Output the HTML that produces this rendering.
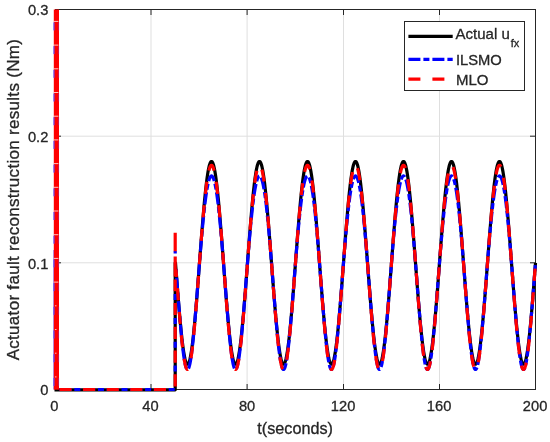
<!DOCTYPE html><html><head><meta charset="utf-8"><title>plot</title><style>html,body{margin:0;padding:0;background:#fff}svg{display:block}text{font-family:"Liberation Sans", sans-serif;fill:#262626;stroke:#262626;stroke-width:0.3px}</style></head><body>
<svg width="550" height="442" viewBox="0 0 550 442">
<rect width="550" height="442" fill="#fff"/>
<g stroke="#dfdfdf" stroke-width="1"><line x1="151.0" y1="9.5" x2="151.0" y2="389.5"/><line x1="247.1" y1="9.5" x2="247.1" y2="389.5"/><line x1="343.5" y1="9.5" x2="343.5" y2="389.5"/><line x1="439.5" y1="9.5" x2="439.5" y2="389.5"/><line x1="55.5" y1="262.8" x2="535.5" y2="262.8"/><line x1="55.5" y1="136.2" x2="535.5" y2="136.2"/></g>
<g stroke="#262626" stroke-width="1"><line x1="151.0" y1="389.5" x2="151.0" y2="384.0"/><line x1="151.0" y1="9.5" x2="151.0" y2="15.0"/><line x1="247.1" y1="389.5" x2="247.1" y2="384.0"/><line x1="247.1" y1="9.5" x2="247.1" y2="15.0"/><line x1="343.5" y1="389.5" x2="343.5" y2="384.0"/><line x1="343.5" y1="9.5" x2="343.5" y2="15.0"/><line x1="439.5" y1="389.5" x2="439.5" y2="384.0"/><line x1="439.5" y1="9.5" x2="439.5" y2="15.0"/><line x1="55.5" y1="262.8" x2="61.0" y2="262.8"/><line x1="535.5" y1="262.8" x2="530.0" y2="262.8"/><line x1="55.5" y1="136.2" x2="61.0" y2="136.2"/><line x1="535.5" y1="136.2" x2="530.0" y2="136.2"/></g>
<rect x="55.5" y="9.5" width="480.0" height="380.0" fill="none" stroke="#262626" stroke-width="1" shape-rendering="crispEdges"/>
<polyline fill="none" stroke="#000" stroke-width="3.2" stroke-linejoin="round" points="54.5,389.8 175.2,389.8 175.2,262.8 175.50,262.83 175.74,266.02 175.98,269.20 176.22,272.37 176.46,275.53 176.70,278.69 176.94,281.82 177.18,284.94 177.42,288.03 177.66,291.10 177.90,294.15 178.14,297.16 178.38,300.14 178.62,303.08 178.86,305.98 179.10,308.84 179.34,311.65 179.58,314.42 179.82,317.13 180.06,319.79 180.30,322.40 180.54,324.94 180.78,327.43 181.02,329.85 181.26,332.20 181.50,334.49 181.74,336.70 181.98,338.84 182.22,340.91 182.46,342.90 182.70,344.81 182.94,346.64 183.18,348.39 183.42,350.06 183.66,351.63 183.90,353.12 184.14,354.52 184.38,355.83 184.62,357.05 184.86,358.18 185.10,359.21 185.34,360.14 185.58,360.98 185.82,361.73 186.06,362.37 186.30,362.92 186.54,363.37 186.78,363.72 187.02,363.97 187.26,364.12 187.50,364.17 187.74,364.12 187.98,363.97 188.22,363.72 188.46,363.37 188.70,362.92 188.94,362.37 189.18,361.73 189.42,360.98 189.66,360.14 189.90,359.21 190.14,358.18 190.38,357.05 190.62,355.83 190.86,354.52 191.10,353.12 191.34,351.63 191.58,350.06 191.82,348.39 192.06,346.64 192.30,344.81 192.54,342.90 192.78,340.91 193.02,338.84 193.26,336.70 193.50,334.49 193.74,332.20 193.98,329.85 194.22,327.43 194.46,324.94 194.70,322.40 194.94,319.79 195.18,317.13 195.42,314.42 195.66,311.65 195.90,308.84 196.14,305.98 196.38,303.08 196.62,300.14 196.86,297.16 197.10,294.15 197.34,291.10 197.58,288.03 197.82,284.94 198.06,281.82 198.30,278.69 198.54,275.53 198.78,272.37 199.02,269.20 199.26,266.02 199.50,262.83 199.74,259.65 199.98,256.47 200.22,253.30 200.46,250.13 200.70,246.98 200.94,243.85 201.18,240.73 201.42,237.63 201.66,234.56 201.90,231.52 202.14,228.51 202.38,225.53 202.62,222.59 202.86,219.69 203.10,216.83 203.34,214.02 203.58,211.25 203.82,208.54 204.06,205.88 204.30,203.27 204.54,200.73 204.78,198.24 205.02,195.82 205.26,193.47 205.50,191.18 205.74,188.96 205.98,186.82 206.22,184.75 206.46,182.76 206.70,180.85 206.94,179.02 207.18,177.27 207.42,175.61 207.66,174.03 207.90,172.54 208.14,171.14 208.38,169.83 208.62,168.62 208.86,167.49 209.10,166.46 209.34,165.52 209.58,164.68 209.82,163.94 210.06,163.29 210.30,162.75 210.54,162.30 210.78,161.95 211.02,161.70 211.26,161.55 211.50,161.50 211.74,161.55 211.98,161.70 212.22,161.95 212.46,162.30 212.70,162.75 212.94,163.29 213.18,163.94 213.42,164.68 213.66,165.52 213.90,166.46 214.14,167.49 214.38,168.62 214.62,169.83 214.86,171.14 215.10,172.54 215.34,174.03 215.58,175.61 215.82,177.27 216.06,179.02 216.30,180.85 216.54,182.76 216.78,184.75 217.02,186.82 217.26,188.96 217.50,191.18 217.74,193.47 217.98,195.82 218.22,198.24 218.46,200.73 218.70,203.27 218.94,205.88 219.18,208.54 219.42,211.25 219.66,214.02 219.90,216.83 220.14,219.69 220.38,222.59 220.62,225.53 220.86,228.51 221.10,231.52 221.34,234.56 221.58,237.63 221.82,240.73 222.06,243.85 222.30,246.98 222.54,250.13 222.78,253.30 223.02,256.47 223.26,259.65 223.50,262.83 223.74,266.02 223.98,269.20 224.22,272.37 224.46,275.53 224.70,278.69 224.94,281.82 225.18,284.94 225.42,288.03 225.66,291.10 225.90,294.15 226.14,297.16 226.38,300.14 226.62,303.08 226.86,305.98 227.10,308.84 227.34,311.65 227.58,314.42 227.82,317.13 228.06,319.79 228.30,322.40 228.54,324.94 228.78,327.43 229.02,329.85 229.26,332.20 229.50,334.49 229.74,336.70 229.98,338.84 230.22,340.91 230.46,342.90 230.70,344.81 230.94,346.64 231.18,348.39 231.42,350.06 231.66,351.63 231.90,353.12 232.14,354.52 232.38,355.83 232.62,357.05 232.86,358.18 233.10,359.21 233.34,360.14 233.58,360.98 233.82,361.73 234.06,362.37 234.30,362.92 234.54,363.37 234.78,363.72 235.02,363.97 235.26,364.12 235.50,364.17 235.74,364.12 235.98,363.97 236.22,363.72 236.46,363.37 236.70,362.92 236.94,362.37 237.18,361.73 237.42,360.98 237.66,360.14 237.90,359.21 238.14,358.18 238.38,357.05 238.62,355.83 238.86,354.52 239.10,353.12 239.34,351.63 239.58,350.06 239.82,348.39 240.06,346.64 240.30,344.81 240.54,342.90 240.78,340.91 241.02,338.84 241.26,336.70 241.50,334.49 241.74,332.20 241.98,329.85 242.22,327.43 242.46,324.94 242.70,322.40 242.94,319.79 243.18,317.13 243.42,314.42 243.66,311.65 243.90,308.84 244.14,305.98 244.38,303.08 244.62,300.14 244.86,297.16 245.10,294.15 245.34,291.10 245.58,288.03 245.82,284.94 246.06,281.82 246.30,278.69 246.54,275.53 246.78,272.37 247.02,269.20 247.26,266.02 247.50,262.83 247.74,259.65 247.98,256.47 248.22,253.30 248.46,250.13 248.70,246.98 248.94,243.85 249.18,240.73 249.42,237.63 249.66,234.56 249.90,231.52 250.14,228.51 250.38,225.53 250.62,222.59 250.86,219.69 251.10,216.83 251.34,214.02 251.58,211.25 251.82,208.54 252.06,205.88 252.30,203.27 252.54,200.73 252.78,198.24 253.02,195.82 253.26,193.47 253.50,191.18 253.74,188.96 253.98,186.82 254.22,184.75 254.46,182.76 254.70,180.85 254.94,179.02 255.18,177.27 255.42,175.61 255.66,174.03 255.90,172.54 256.14,171.14 256.38,169.83 256.62,168.62 256.86,167.49 257.10,166.46 257.34,165.52 257.58,164.68 257.82,163.94 258.06,163.29 258.30,162.75 258.54,162.30 258.78,161.95 259.02,161.70 259.26,161.55 259.50,161.50 259.74,161.55 259.98,161.70 260.22,161.95 260.46,162.30 260.70,162.75 260.94,163.29 261.18,163.94 261.42,164.68 261.66,165.52 261.90,166.46 262.14,167.49 262.38,168.62 262.62,169.83 262.86,171.14 263.10,172.54 263.34,174.03 263.58,175.61 263.82,177.27 264.06,179.02 264.30,180.85 264.54,182.76 264.78,184.75 265.02,186.82 265.26,188.96 265.50,191.18 265.74,193.47 265.98,195.82 266.22,198.24 266.46,200.73 266.70,203.27 266.94,205.88 267.18,208.54 267.42,211.25 267.66,214.02 267.90,216.83 268.14,219.69 268.38,222.59 268.62,225.53 268.86,228.51 269.10,231.52 269.34,234.56 269.58,237.63 269.82,240.73 270.06,243.85 270.30,246.98 270.54,250.13 270.78,253.30 271.02,256.47 271.26,259.65 271.50,262.83 271.74,266.02 271.98,269.20 272.22,272.37 272.46,275.53 272.70,278.69 272.94,281.82 273.18,284.94 273.42,288.03 273.66,291.10 273.90,294.15 274.14,297.16 274.38,300.14 274.62,303.08 274.86,305.98 275.10,308.84 275.34,311.65 275.58,314.42 275.82,317.13 276.06,319.79 276.30,322.40 276.54,324.94 276.78,327.43 277.02,329.85 277.26,332.20 277.50,334.49 277.74,336.70 277.98,338.84 278.22,340.91 278.46,342.90 278.70,344.81 278.94,346.64 279.18,348.39 279.42,350.06 279.66,351.63 279.90,353.12 280.14,354.52 280.38,355.83 280.62,357.05 280.86,358.18 281.10,359.21 281.34,360.14 281.58,360.98 281.82,361.73 282.06,362.37 282.30,362.92 282.54,363.37 282.78,363.72 283.02,363.97 283.26,364.12 283.50,364.17 283.74,364.12 283.98,363.97 284.22,363.72 284.46,363.37 284.70,362.92 284.94,362.37 285.18,361.73 285.42,360.98 285.66,360.14 285.90,359.21 286.14,358.18 286.38,357.05 286.62,355.83 286.86,354.52 287.10,353.12 287.34,351.63 287.58,350.06 287.82,348.39 288.06,346.64 288.30,344.81 288.54,342.90 288.78,340.91 289.02,338.84 289.26,336.70 289.50,334.49 289.74,332.20 289.98,329.85 290.22,327.43 290.46,324.94 290.70,322.40 290.94,319.79 291.18,317.13 291.42,314.42 291.66,311.65 291.90,308.84 292.14,305.98 292.38,303.08 292.62,300.14 292.86,297.16 293.10,294.15 293.34,291.10 293.58,288.03 293.82,284.94 294.06,281.82 294.30,278.69 294.54,275.53 294.78,272.37 295.02,269.20 295.26,266.02 295.50,262.83 295.74,259.65 295.98,256.47 296.22,253.30 296.46,250.13 296.70,246.98 296.94,243.85 297.18,240.73 297.42,237.63 297.66,234.56 297.90,231.52 298.14,228.51 298.38,225.53 298.62,222.59 298.86,219.69 299.10,216.83 299.34,214.02 299.58,211.25 299.82,208.54 300.06,205.88 300.30,203.27 300.54,200.73 300.78,198.24 301.02,195.82 301.26,193.47 301.50,191.18 301.74,188.96 301.98,186.82 302.22,184.75 302.46,182.76 302.70,180.85 302.94,179.02 303.18,177.27 303.42,175.61 303.66,174.03 303.90,172.54 304.14,171.14 304.38,169.83 304.62,168.62 304.86,167.49 305.10,166.46 305.34,165.52 305.58,164.68 305.82,163.94 306.06,163.29 306.30,162.75 306.54,162.30 306.78,161.95 307.02,161.70 307.26,161.55 307.50,161.50 307.74,161.55 307.98,161.70 308.22,161.95 308.46,162.30 308.70,162.75 308.94,163.29 309.18,163.94 309.42,164.68 309.66,165.52 309.90,166.46 310.14,167.49 310.38,168.62 310.62,169.83 310.86,171.14 311.10,172.54 311.34,174.03 311.58,175.61 311.82,177.27 312.06,179.02 312.30,180.85 312.54,182.76 312.78,184.75 313.02,186.82 313.26,188.96 313.50,191.18 313.74,193.47 313.98,195.82 314.22,198.24 314.46,200.73 314.70,203.27 314.94,205.88 315.18,208.54 315.42,211.25 315.66,214.02 315.90,216.83 316.14,219.69 316.38,222.59 316.62,225.53 316.86,228.51 317.10,231.52 317.34,234.56 317.58,237.63 317.82,240.73 318.06,243.85 318.30,246.98 318.54,250.13 318.78,253.30 319.02,256.47 319.26,259.65 319.50,262.83 319.74,266.02 319.98,269.20 320.22,272.37 320.46,275.53 320.70,278.69 320.94,281.82 321.18,284.94 321.42,288.03 321.66,291.10 321.90,294.15 322.14,297.16 322.38,300.14 322.62,303.08 322.86,305.98 323.10,308.84 323.34,311.65 323.58,314.42 323.82,317.13 324.06,319.79 324.30,322.40 324.54,324.94 324.78,327.43 325.02,329.85 325.26,332.20 325.50,334.49 325.74,336.70 325.98,338.84 326.22,340.91 326.46,342.90 326.70,344.81 326.94,346.64 327.18,348.39 327.42,350.06 327.66,351.63 327.90,353.12 328.14,354.52 328.38,355.83 328.62,357.05 328.86,358.18 329.10,359.21 329.34,360.14 329.58,360.98 329.82,361.73 330.06,362.37 330.30,362.92 330.54,363.37 330.78,363.72 331.02,363.97 331.26,364.12 331.50,364.17 331.74,364.12 331.98,363.97 332.22,363.72 332.46,363.37 332.70,362.92 332.94,362.37 333.18,361.73 333.42,360.98 333.66,360.14 333.90,359.21 334.14,358.18 334.38,357.05 334.62,355.83 334.86,354.52 335.10,353.12 335.34,351.63 335.58,350.06 335.82,348.39 336.06,346.64 336.30,344.81 336.54,342.90 336.78,340.91 337.02,338.84 337.26,336.70 337.50,334.49 337.74,332.20 337.98,329.85 338.22,327.43 338.46,324.94 338.70,322.40 338.94,319.79 339.18,317.13 339.42,314.42 339.66,311.65 339.90,308.84 340.14,305.98 340.38,303.08 340.62,300.14 340.86,297.16 341.10,294.15 341.34,291.10 341.58,288.03 341.82,284.94 342.06,281.82 342.30,278.69 342.54,275.53 342.78,272.37 343.02,269.20 343.26,266.02 343.50,262.83 343.74,259.65 343.98,256.47 344.22,253.30 344.46,250.13 344.70,246.98 344.94,243.85 345.18,240.73 345.42,237.63 345.66,234.56 345.90,231.52 346.14,228.51 346.38,225.53 346.62,222.59 346.86,219.69 347.10,216.83 347.34,214.02 347.58,211.25 347.82,208.54 348.06,205.88 348.30,203.27 348.54,200.73 348.78,198.24 349.02,195.82 349.26,193.47 349.50,191.18 349.74,188.96 349.98,186.82 350.22,184.75 350.46,182.76 350.70,180.85 350.94,179.02 351.18,177.27 351.42,175.61 351.66,174.03 351.90,172.54 352.14,171.14 352.38,169.83 352.62,168.62 352.86,167.49 353.10,166.46 353.34,165.52 353.58,164.68 353.82,163.94 354.06,163.29 354.30,162.75 354.54,162.30 354.78,161.95 355.02,161.70 355.26,161.55 355.50,161.50 355.74,161.55 355.98,161.70 356.22,161.95 356.46,162.30 356.70,162.75 356.94,163.29 357.18,163.94 357.42,164.68 357.66,165.52 357.90,166.46 358.14,167.49 358.38,168.62 358.62,169.83 358.86,171.14 359.10,172.54 359.34,174.03 359.58,175.61 359.82,177.27 360.06,179.02 360.30,180.85 360.54,182.76 360.78,184.75 361.02,186.82 361.26,188.96 361.50,191.18 361.74,193.47 361.98,195.82 362.22,198.24 362.46,200.73 362.70,203.27 362.94,205.88 363.18,208.54 363.42,211.25 363.66,214.02 363.90,216.83 364.14,219.69 364.38,222.59 364.62,225.53 364.86,228.51 365.10,231.52 365.34,234.56 365.58,237.63 365.82,240.73 366.06,243.85 366.30,246.98 366.54,250.13 366.78,253.30 367.02,256.47 367.26,259.65 367.50,262.83 367.74,266.02 367.98,269.20 368.22,272.37 368.46,275.53 368.70,278.69 368.94,281.82 369.18,284.94 369.42,288.03 369.66,291.10 369.90,294.15 370.14,297.16 370.38,300.14 370.62,303.08 370.86,305.98 371.10,308.84 371.34,311.65 371.58,314.42 371.82,317.13 372.06,319.79 372.30,322.40 372.54,324.94 372.78,327.43 373.02,329.85 373.26,332.20 373.50,334.49 373.74,336.70 373.98,338.84 374.22,340.91 374.46,342.90 374.70,344.81 374.94,346.64 375.18,348.39 375.42,350.06 375.66,351.63 375.90,353.12 376.14,354.52 376.38,355.83 376.62,357.05 376.86,358.18 377.10,359.21 377.34,360.14 377.58,360.98 377.82,361.73 378.06,362.37 378.30,362.92 378.54,363.37 378.78,363.72 379.02,363.97 379.26,364.12 379.50,364.17 379.74,364.12 379.98,363.97 380.22,363.72 380.46,363.37 380.70,362.92 380.94,362.37 381.18,361.73 381.42,360.98 381.66,360.14 381.90,359.21 382.14,358.18 382.38,357.05 382.62,355.83 382.86,354.52 383.10,353.12 383.34,351.63 383.58,350.06 383.82,348.39 384.06,346.64 384.30,344.81 384.54,342.90 384.78,340.91 385.02,338.84 385.26,336.70 385.50,334.49 385.74,332.20 385.98,329.85 386.22,327.43 386.46,324.94 386.70,322.40 386.94,319.79 387.18,317.13 387.42,314.42 387.66,311.65 387.90,308.84 388.14,305.98 388.38,303.08 388.62,300.14 388.86,297.16 389.10,294.15 389.34,291.10 389.58,288.03 389.82,284.94 390.06,281.82 390.30,278.69 390.54,275.53 390.78,272.37 391.02,269.20 391.26,266.02 391.50,262.83 391.74,259.65 391.98,256.47 392.22,253.30 392.46,250.13 392.70,246.98 392.94,243.85 393.18,240.73 393.42,237.63 393.66,234.56 393.90,231.52 394.14,228.51 394.38,225.53 394.62,222.59 394.86,219.69 395.10,216.83 395.34,214.02 395.58,211.25 395.82,208.54 396.06,205.88 396.30,203.27 396.54,200.73 396.78,198.24 397.02,195.82 397.26,193.47 397.50,191.18 397.74,188.96 397.98,186.82 398.22,184.75 398.46,182.76 398.70,180.85 398.94,179.02 399.18,177.27 399.42,175.61 399.66,174.03 399.90,172.54 400.14,171.14 400.38,169.83 400.62,168.62 400.86,167.49 401.10,166.46 401.34,165.52 401.58,164.68 401.82,163.94 402.06,163.29 402.30,162.75 402.54,162.30 402.78,161.95 403.02,161.70 403.26,161.55 403.50,161.50 403.74,161.55 403.98,161.70 404.22,161.95 404.46,162.30 404.70,162.75 404.94,163.29 405.18,163.94 405.42,164.68 405.66,165.52 405.90,166.46 406.14,167.49 406.38,168.62 406.62,169.83 406.86,171.14 407.10,172.54 407.34,174.03 407.58,175.61 407.82,177.27 408.06,179.02 408.30,180.85 408.54,182.76 408.78,184.75 409.02,186.82 409.26,188.96 409.50,191.18 409.74,193.47 409.98,195.82 410.22,198.24 410.46,200.73 410.70,203.27 410.94,205.88 411.18,208.54 411.42,211.25 411.66,214.02 411.90,216.83 412.14,219.69 412.38,222.59 412.62,225.53 412.86,228.51 413.10,231.52 413.34,234.56 413.58,237.63 413.82,240.73 414.06,243.85 414.30,246.98 414.54,250.13 414.78,253.30 415.02,256.47 415.26,259.65 415.50,262.83 415.74,266.02 415.98,269.20 416.22,272.37 416.46,275.53 416.70,278.69 416.94,281.82 417.18,284.94 417.42,288.03 417.66,291.10 417.90,294.15 418.14,297.16 418.38,300.14 418.62,303.08 418.86,305.98 419.10,308.84 419.34,311.65 419.58,314.42 419.82,317.13 420.06,319.79 420.30,322.40 420.54,324.94 420.78,327.43 421.02,329.85 421.26,332.20 421.50,334.49 421.74,336.70 421.98,338.84 422.22,340.91 422.46,342.90 422.70,344.81 422.94,346.64 423.18,348.39 423.42,350.06 423.66,351.63 423.90,353.12 424.14,354.52 424.38,355.83 424.62,357.05 424.86,358.18 425.10,359.21 425.34,360.14 425.58,360.98 425.82,361.73 426.06,362.37 426.30,362.92 426.54,363.37 426.78,363.72 427.02,363.97 427.26,364.12 427.50,364.17 427.74,364.12 427.98,363.97 428.22,363.72 428.46,363.37 428.70,362.92 428.94,362.37 429.18,361.73 429.42,360.98 429.66,360.14 429.90,359.21 430.14,358.18 430.38,357.05 430.62,355.83 430.86,354.52 431.10,353.12 431.34,351.63 431.58,350.06 431.82,348.39 432.06,346.64 432.30,344.81 432.54,342.90 432.78,340.91 433.02,338.84 433.26,336.70 433.50,334.49 433.74,332.20 433.98,329.85 434.22,327.43 434.46,324.94 434.70,322.40 434.94,319.79 435.18,317.13 435.42,314.42 435.66,311.65 435.90,308.84 436.14,305.98 436.38,303.08 436.62,300.14 436.86,297.16 437.10,294.15 437.34,291.10 437.58,288.03 437.82,284.94 438.06,281.82 438.30,278.69 438.54,275.53 438.78,272.37 439.02,269.20 439.26,266.02 439.50,262.83 439.74,259.65 439.98,256.47 440.22,253.30 440.46,250.13 440.70,246.98 440.94,243.85 441.18,240.73 441.42,237.63 441.66,234.56 441.90,231.52 442.14,228.51 442.38,225.53 442.62,222.59 442.86,219.69 443.10,216.83 443.34,214.02 443.58,211.25 443.82,208.54 444.06,205.88 444.30,203.27 444.54,200.73 444.78,198.24 445.02,195.82 445.26,193.47 445.50,191.18 445.74,188.96 445.98,186.82 446.22,184.75 446.46,182.76 446.70,180.85 446.94,179.02 447.18,177.27 447.42,175.61 447.66,174.03 447.90,172.54 448.14,171.14 448.38,169.83 448.62,168.62 448.86,167.49 449.10,166.46 449.34,165.52 449.58,164.68 449.82,163.94 450.06,163.29 450.30,162.75 450.54,162.30 450.78,161.95 451.02,161.70 451.26,161.55 451.50,161.50 451.74,161.55 451.98,161.70 452.22,161.95 452.46,162.30 452.70,162.75 452.94,163.29 453.18,163.94 453.42,164.68 453.66,165.52 453.90,166.46 454.14,167.49 454.38,168.62 454.62,169.83 454.86,171.14 455.10,172.54 455.34,174.03 455.58,175.61 455.82,177.27 456.06,179.02 456.30,180.85 456.54,182.76 456.78,184.75 457.02,186.82 457.26,188.96 457.50,191.18 457.74,193.47 457.98,195.82 458.22,198.24 458.46,200.73 458.70,203.27 458.94,205.88 459.18,208.54 459.42,211.25 459.66,214.02 459.90,216.83 460.14,219.69 460.38,222.59 460.62,225.53 460.86,228.51 461.10,231.52 461.34,234.56 461.58,237.63 461.82,240.73 462.06,243.85 462.30,246.98 462.54,250.13 462.78,253.30 463.02,256.47 463.26,259.65 463.50,262.83 463.74,266.02 463.98,269.20 464.22,272.37 464.46,275.53 464.70,278.69 464.94,281.82 465.18,284.94 465.42,288.03 465.66,291.10 465.90,294.15 466.14,297.16 466.38,300.14 466.62,303.08 466.86,305.98 467.10,308.84 467.34,311.65 467.58,314.42 467.82,317.13 468.06,319.79 468.30,322.40 468.54,324.94 468.78,327.43 469.02,329.85 469.26,332.20 469.50,334.49 469.74,336.70 469.98,338.84 470.22,340.91 470.46,342.90 470.70,344.81 470.94,346.64 471.18,348.39 471.42,350.06 471.66,351.63 471.90,353.12 472.14,354.52 472.38,355.83 472.62,357.05 472.86,358.18 473.10,359.21 473.34,360.14 473.58,360.98 473.82,361.73 474.06,362.37 474.30,362.92 474.54,363.37 474.78,363.72 475.02,363.97 475.26,364.12 475.50,364.17 475.74,364.12 475.98,363.97 476.22,363.72 476.46,363.37 476.70,362.92 476.94,362.37 477.18,361.73 477.42,360.98 477.66,360.14 477.90,359.21 478.14,358.18 478.38,357.05 478.62,355.83 478.86,354.52 479.10,353.12 479.34,351.63 479.58,350.06 479.82,348.39 480.06,346.64 480.30,344.81 480.54,342.90 480.78,340.91 481.02,338.84 481.26,336.70 481.50,334.49 481.74,332.20 481.98,329.85 482.22,327.43 482.46,324.94 482.70,322.40 482.94,319.79 483.18,317.13 483.42,314.42 483.66,311.65 483.90,308.84 484.14,305.98 484.38,303.08 484.62,300.14 484.86,297.16 485.10,294.15 485.34,291.10 485.58,288.03 485.82,284.94 486.06,281.82 486.30,278.69 486.54,275.53 486.78,272.37 487.02,269.20 487.26,266.02 487.50,262.83 487.74,259.65 487.98,256.47 488.22,253.30 488.46,250.13 488.70,246.98 488.94,243.85 489.18,240.73 489.42,237.63 489.66,234.56 489.90,231.52 490.14,228.51 490.38,225.53 490.62,222.59 490.86,219.69 491.10,216.83 491.34,214.02 491.58,211.25 491.82,208.54 492.06,205.88 492.30,203.27 492.54,200.73 492.78,198.24 493.02,195.82 493.26,193.47 493.50,191.18 493.74,188.96 493.98,186.82 494.22,184.75 494.46,182.76 494.70,180.85 494.94,179.02 495.18,177.27 495.42,175.61 495.66,174.03 495.90,172.54 496.14,171.14 496.38,169.83 496.62,168.62 496.86,167.49 497.10,166.46 497.34,165.52 497.58,164.68 497.82,163.94 498.06,163.29 498.30,162.75 498.54,162.30 498.78,161.95 499.02,161.70 499.26,161.55 499.50,161.50 499.74,161.55 499.98,161.70 500.22,161.95 500.46,162.30 500.70,162.75 500.94,163.29 501.18,163.94 501.42,164.68 501.66,165.52 501.90,166.46 502.14,167.49 502.38,168.62 502.62,169.83 502.86,171.14 503.10,172.54 503.34,174.03 503.58,175.61 503.82,177.27 504.06,179.02 504.30,180.85 504.54,182.76 504.78,184.75 505.02,186.82 505.26,188.96 505.50,191.18 505.74,193.47 505.98,195.82 506.22,198.24 506.46,200.73 506.70,203.27 506.94,205.88 507.18,208.54 507.42,211.25 507.66,214.02 507.90,216.83 508.14,219.69 508.38,222.59 508.62,225.53 508.86,228.51 509.10,231.52 509.34,234.56 509.58,237.63 509.82,240.73 510.06,243.85 510.30,246.98 510.54,250.13 510.78,253.30 511.02,256.47 511.26,259.65 511.50,262.83 511.74,266.02 511.98,269.20 512.22,272.37 512.46,275.53 512.70,278.69 512.94,281.82 513.18,284.94 513.42,288.03 513.66,291.10 513.90,294.15 514.14,297.16 514.38,300.14 514.62,303.08 514.86,305.98 515.10,308.84 515.34,311.65 515.58,314.42 515.82,317.13 516.06,319.79 516.30,322.40 516.54,324.94 516.78,327.43 517.02,329.85 517.26,332.20 517.50,334.49 517.74,336.70 517.98,338.84 518.22,340.91 518.46,342.90 518.70,344.81 518.94,346.64 519.18,348.39 519.42,350.06 519.66,351.63 519.90,353.12 520.14,354.52 520.38,355.83 520.62,357.05 520.86,358.18 521.10,359.21 521.34,360.14 521.58,360.98 521.82,361.73 522.06,362.37 522.30,362.92 522.54,363.37 522.78,363.72 523.02,363.97 523.26,364.12 523.50,364.17 523.74,364.12 523.98,363.97 524.22,363.72 524.46,363.37 524.70,362.92 524.94,362.37 525.18,361.73 525.42,360.98 525.66,360.14 525.90,359.21 526.14,358.18 526.38,357.05 526.62,355.83 526.86,354.52 527.10,353.12 527.34,351.63 527.58,350.06 527.82,348.39 528.06,346.64 528.30,344.81 528.54,342.90 528.78,340.91 529.02,338.84 529.26,336.70 529.50,334.49 529.74,332.20 529.98,329.85 530.22,327.43 530.46,324.94 530.70,322.40 530.94,319.79 531.18,317.13 531.42,314.42 531.66,311.65 531.90,308.84 532.14,305.98 532.38,303.08 532.62,300.14 532.86,297.16 533.10,294.15 533.34,291.10 533.58,288.03 533.82,284.94 534.06,281.82 534.30,278.69 534.54,275.53 534.78,272.37 535.02,269.20 535.26,266.02 535.50,262.83"/>
<line x1="57.5" y1="389.5" x2="175.5" y2="389.5" stroke="#0000ff" stroke-width="3.2" stroke-dasharray="12.1 2.75 6 2.74" stroke-dashoffset="21.59"/>
<line x1="175.2" y1="251" x2="175.2" y2="389.5" stroke="#0000ff" stroke-width="3.2" stroke-dasharray="2.5 40.6 6 17.8 6 17.8 6 17.8 6 30"/>
<polyline fill="none" stroke="#0000ff" stroke-width="3.2" stroke-linejoin="round" stroke-dasharray="12.1 2.75 6 2.74" stroke-dashoffset="14.79" points="175.98,268.95 176.22,272.03 176.46,275.12 176.70,278.21 176.94,281.31 177.18,284.41 177.42,287.51 177.66,290.60 177.90,293.68 178.14,296.75 178.38,299.80 178.62,302.82 178.86,305.83 179.10,308.80 179.34,311.75 179.58,314.66 179.82,317.52 180.06,320.35 180.30,323.13 180.54,325.86 180.78,328.53 181.02,331.15 181.26,333.71 181.50,336.20 181.74,338.63 181.98,340.98 182.22,343.26 182.46,345.47 182.70,347.59 182.94,349.63 183.18,351.59 183.42,353.45 183.66,355.22 183.90,356.90 184.14,358.49 184.38,359.97 184.62,361.35 184.86,362.63 185.10,363.81 185.34,364.88 185.58,365.84 185.82,366.69 186.06,367.43 186.30,368.05 186.54,368.57 186.78,368.97 187.02,369.26 187.26,369.43 187.50,369.49 187.74,369.43 187.98,369.26 188.22,368.97 188.46,368.57 188.70,368.05 188.94,367.43 189.18,366.69 189.42,365.84 189.66,364.88 189.90,363.81 190.14,362.63 190.38,361.35 190.62,359.97 190.86,358.49 191.10,356.90 191.34,355.22 191.58,353.45 191.82,351.59 192.06,349.63 192.30,347.59 192.54,345.47 192.78,343.26 193.02,340.98 193.26,338.63 193.50,336.20 193.74,333.71 193.98,331.15 194.22,328.53 194.46,325.86 194.70,323.13 194.94,320.35 195.18,317.52 195.42,314.66 195.66,311.75 195.90,308.80 196.14,305.83 196.38,302.82 196.62,299.80 196.86,296.75 197.10,293.68 197.34,290.60 197.58,287.51 197.82,284.41 198.06,281.31 198.30,278.21 198.54,275.12 198.78,272.03 199.02,268.95 199.26,265.88 199.50,262.83 199.74,259.80 199.98,256.80 200.22,253.81 200.46,250.86 200.70,247.94 200.94,245.05 201.18,242.19 201.42,239.38 201.66,236.60 201.90,233.87 202.14,231.19 202.38,228.55 202.62,225.96 202.86,223.42 203.10,220.94 203.34,218.51 203.58,216.13 203.82,213.82 204.06,211.56 204.30,209.36 204.54,207.23 204.78,205.16 205.02,203.16 205.26,201.22 205.50,199.34 205.74,197.54 205.98,195.80 206.22,194.13 206.46,192.54 206.70,191.01 206.94,189.55 207.18,188.17 207.42,186.86 207.66,185.62 207.90,184.45 208.14,183.36 208.38,182.34 208.62,181.40 208.86,180.53 209.10,179.73 209.34,179.01 209.58,178.37 209.82,177.80 210.06,177.31 210.30,176.89 210.54,176.55 210.78,176.28 211.02,176.09 211.26,175.98 211.50,175.94 211.74,175.98 211.98,176.09 212.22,176.28 212.46,176.55 212.70,176.89 212.94,177.31 213.18,177.80 213.42,178.37 213.66,179.01 213.90,179.73 214.14,180.53 214.38,181.40 214.62,182.34 214.86,183.36 215.10,184.45 215.34,185.62 215.58,186.86 215.82,188.17 216.06,189.55 216.30,191.01 216.54,192.54 216.78,194.13 217.02,195.80 217.26,197.54 217.50,199.34 217.74,201.22 217.98,203.16 218.22,205.16 218.46,207.23 218.70,209.36 218.94,211.56 219.18,213.82 219.42,216.13 219.66,218.51 219.90,220.94 220.14,223.42 220.38,225.96 220.62,228.55 220.86,231.19 221.10,233.87 221.34,236.60 221.58,239.38 221.82,242.19 222.06,245.05 222.30,247.94 222.54,250.86 222.78,253.81 223.02,256.80 223.26,259.80 223.50,262.83 223.74,265.88 223.98,268.95 224.22,272.03 224.46,275.12 224.70,278.21 224.94,281.31 225.18,284.41 225.42,287.51 225.66,290.60 225.90,293.68 226.14,296.75 226.38,299.80 226.62,302.82 226.86,305.83 227.10,308.80 227.34,311.75 227.58,314.66 227.82,317.52 228.06,320.35 228.30,323.13 228.54,325.86 228.78,328.53 229.02,331.15 229.26,333.71 229.50,336.20 229.74,338.63 229.98,340.98 230.22,343.26 230.46,345.47 230.70,347.59 230.94,349.63 231.18,351.59 231.42,353.45 231.66,355.22 231.90,356.90 232.14,358.49 232.38,359.97 232.62,361.35 232.86,362.63 233.10,363.81 233.34,364.88 233.58,365.84 233.82,366.69 234.06,367.43 234.30,368.05 234.54,368.57 234.78,368.97 235.02,369.26 235.26,369.43 235.50,369.49 235.74,369.43 235.98,369.26 236.22,368.97 236.46,368.57 236.70,368.05 236.94,367.43 237.18,366.69 237.42,365.84 237.66,364.88 237.90,363.81 238.14,362.63 238.38,361.35 238.62,359.97 238.86,358.49 239.10,356.90 239.34,355.22 239.58,353.45 239.82,351.59 240.06,349.63 240.30,347.59 240.54,345.47 240.78,343.26 241.02,340.98 241.26,338.63 241.50,336.20 241.74,333.71 241.98,331.15 242.22,328.53 242.46,325.86 242.70,323.13 242.94,320.35 243.18,317.52 243.42,314.66 243.66,311.75 243.90,308.80 244.14,305.83 244.38,302.82 244.62,299.80 244.86,296.75 245.10,293.68 245.34,290.60 245.58,287.51 245.82,284.41 246.06,281.31 246.30,278.21 246.54,275.12 246.78,272.03 247.02,268.95 247.26,265.88 247.50,262.83 247.74,259.80 247.98,256.80 248.22,253.81 248.46,250.86 248.70,247.94 248.94,245.05 249.18,242.19 249.42,239.38 249.66,236.60 249.90,233.87 250.14,231.19 250.38,228.55 250.62,225.96 250.86,223.42 251.10,220.94 251.34,218.51 251.58,216.13 251.82,213.82 252.06,211.56 252.30,209.36 252.54,207.23 252.78,205.16 253.02,203.16 253.26,201.22 253.50,199.34 253.74,197.54 253.98,195.80 254.22,194.13 254.46,192.54 254.70,191.01 254.94,189.55 255.18,188.17 255.42,186.86 255.66,185.62 255.90,184.45 256.14,183.36 256.38,182.34 256.62,181.40 256.86,180.53 257.10,179.73 257.34,179.01 257.58,178.37 257.82,177.80 258.06,177.31 258.30,176.89 258.54,176.55 258.78,176.28 259.02,176.09 259.26,175.98 259.50,175.94 259.74,175.98 259.98,176.09 260.22,176.28 260.46,176.55 260.70,176.89 260.94,177.31 261.18,177.80 261.42,178.37 261.66,179.01 261.90,179.73 262.14,180.53 262.38,181.40 262.62,182.34 262.86,183.36 263.10,184.45 263.34,185.62 263.58,186.86 263.82,188.17 264.06,189.55 264.30,191.01 264.54,192.54 264.78,194.13 265.02,195.80 265.26,197.54 265.50,199.34 265.74,201.22 265.98,203.16 266.22,205.16 266.46,207.23 266.70,209.36 266.94,211.56 267.18,213.82 267.42,216.13 267.66,218.51 267.90,220.94 268.14,223.42 268.38,225.96 268.62,228.55 268.86,231.19 269.10,233.87 269.34,236.60 269.58,239.38 269.82,242.19 270.06,245.05 270.30,247.94 270.54,250.86 270.78,253.81 271.02,256.80 271.26,259.80 271.50,262.83 271.74,265.88 271.98,268.95 272.22,272.03 272.46,275.12 272.70,278.21 272.94,281.31 273.18,284.41 273.42,287.51 273.66,290.60 273.90,293.68 274.14,296.75 274.38,299.80 274.62,302.82 274.86,305.83 275.10,308.80 275.34,311.75 275.58,314.66 275.82,317.52 276.06,320.35 276.30,323.13 276.54,325.86 276.78,328.53 277.02,331.15 277.26,333.71 277.50,336.20 277.74,338.63 277.98,340.98 278.22,343.26 278.46,345.47 278.70,347.59 278.94,349.63 279.18,351.59 279.42,353.45 279.66,355.22 279.90,356.90 280.14,358.49 280.38,359.97 280.62,361.35 280.86,362.63 281.10,363.81 281.34,364.88 281.58,365.84 281.82,366.69 282.06,367.43 282.30,368.05 282.54,368.57 282.78,368.97 283.02,369.26 283.26,369.43 283.50,369.49 283.74,369.43 283.98,369.26 284.22,368.97 284.46,368.57 284.70,368.05 284.94,367.43 285.18,366.69 285.42,365.84 285.66,364.88 285.90,363.81 286.14,362.63 286.38,361.35 286.62,359.97 286.86,358.49 287.10,356.90 287.34,355.22 287.58,353.45 287.82,351.59 288.06,349.63 288.30,347.59 288.54,345.47 288.78,343.26 289.02,340.98 289.26,338.63 289.50,336.20 289.74,333.71 289.98,331.15 290.22,328.53 290.46,325.86 290.70,323.13 290.94,320.35 291.18,317.52 291.42,314.66 291.66,311.75 291.90,308.80 292.14,305.83 292.38,302.82 292.62,299.80 292.86,296.75 293.10,293.68 293.34,290.60 293.58,287.51 293.82,284.41 294.06,281.31 294.30,278.21 294.54,275.12 294.78,272.03 295.02,268.95 295.26,265.88 295.50,262.83 295.74,259.80 295.98,256.80 296.22,253.81 296.46,250.86 296.70,247.94 296.94,245.05 297.18,242.19 297.42,239.38 297.66,236.60 297.90,233.87 298.14,231.19 298.38,228.55 298.62,225.96 298.86,223.42 299.10,220.94 299.34,218.51 299.58,216.13 299.82,213.82 300.06,211.56 300.30,209.36 300.54,207.23 300.78,205.16 301.02,203.16 301.26,201.22 301.50,199.34 301.74,197.54 301.98,195.80 302.22,194.13 302.46,192.54 302.70,191.01 302.94,189.55 303.18,188.17 303.42,186.86 303.66,185.62 303.90,184.45 304.14,183.36 304.38,182.34 304.62,181.40 304.86,180.53 305.10,179.73 305.34,179.01 305.58,178.37 305.82,177.80 306.06,177.31 306.30,176.89 306.54,176.55 306.78,176.28 307.02,176.09 307.26,175.98 307.50,175.94 307.74,175.98 307.98,176.09 308.22,176.28 308.46,176.55 308.70,176.89 308.94,177.31 309.18,177.80 309.42,178.37 309.66,179.01 309.90,179.73 310.14,180.53 310.38,181.40 310.62,182.34 310.86,183.36 311.10,184.45 311.34,185.62 311.58,186.86 311.82,188.17 312.06,189.55 312.30,191.01 312.54,192.54 312.78,194.13 313.02,195.80 313.26,197.54 313.50,199.34 313.74,201.22 313.98,203.16 314.22,205.16 314.46,207.23 314.70,209.36 314.94,211.56 315.18,213.82 315.42,216.13 315.66,218.51 315.90,220.94 316.14,223.42 316.38,225.96 316.62,228.55 316.86,231.19 317.10,233.87 317.34,236.60 317.58,239.38 317.82,242.19 318.06,245.05 318.30,247.94 318.54,250.86 318.78,253.81 319.02,256.80 319.26,259.80 319.50,262.83 319.74,265.88 319.98,268.95 320.22,272.03 320.46,275.12 320.70,278.21 320.94,281.31 321.18,284.41 321.42,287.51 321.66,290.60 321.90,293.68 322.14,296.75 322.38,299.80 322.62,302.82 322.86,305.83 323.10,308.80 323.34,311.75 323.58,314.66 323.82,317.52 324.06,320.35 324.30,323.13 324.54,325.86 324.78,328.53 325.02,331.15 325.26,333.71 325.50,336.20 325.74,338.63 325.98,340.98 326.22,343.26 326.46,345.47 326.70,347.59 326.94,349.63 327.18,351.59 327.42,353.45 327.66,355.22 327.90,356.90 328.14,358.49 328.38,359.97 328.62,361.35 328.86,362.63 329.10,363.81 329.34,364.88 329.58,365.84 329.82,366.69 330.06,367.43 330.30,368.05 330.54,368.57 330.78,368.97 331.02,369.26 331.26,369.43 331.50,369.49 331.74,369.43 331.98,369.26 332.22,368.97 332.46,368.57 332.70,368.05 332.94,367.43 333.18,366.69 333.42,365.84 333.66,364.88 333.90,363.81 334.14,362.63 334.38,361.35 334.62,359.97 334.86,358.49 335.10,356.90 335.34,355.22 335.58,353.45 335.82,351.59 336.06,349.63 336.30,347.59 336.54,345.47 336.78,343.26 337.02,340.98 337.26,338.63 337.50,336.20 337.74,333.71 337.98,331.15 338.22,328.53 338.46,325.86 338.70,323.13 338.94,320.35 339.18,317.52 339.42,314.66 339.66,311.75 339.90,308.80 340.14,305.83 340.38,302.82 340.62,299.80 340.86,296.75 341.10,293.68 341.34,290.60 341.58,287.51 341.82,284.41 342.06,281.31 342.30,278.21 342.54,275.12 342.78,272.03 343.02,268.95 343.26,265.88 343.50,262.83 343.74,259.80 343.98,256.80 344.22,253.81 344.46,250.86 344.70,247.94 344.94,245.05 345.18,242.19 345.42,239.38 345.66,236.60 345.90,233.87 346.14,231.19 346.38,228.55 346.62,225.96 346.86,223.42 347.10,220.94 347.34,218.51 347.58,216.13 347.82,213.82 348.06,211.56 348.30,209.36 348.54,207.23 348.78,205.16 349.02,203.16 349.26,201.22 349.50,199.34 349.74,197.54 349.98,195.80 350.22,194.13 350.46,192.54 350.70,191.01 350.94,189.55 351.18,188.17 351.42,186.86 351.66,185.62 351.90,184.45 352.14,183.36 352.38,182.34 352.62,181.40 352.86,180.53 353.10,179.73 353.34,179.01 353.58,178.37 353.82,177.80 354.06,177.31 354.30,176.89 354.54,176.55 354.78,176.28 355.02,176.09 355.26,175.98 355.50,175.94 355.74,175.98 355.98,176.09 356.22,176.28 356.46,176.55 356.70,176.89 356.94,177.31 357.18,177.80 357.42,178.37 357.66,179.01 357.90,179.73 358.14,180.53 358.38,181.40 358.62,182.34 358.86,183.36 359.10,184.45 359.34,185.62 359.58,186.86 359.82,188.17 360.06,189.55 360.30,191.01 360.54,192.54 360.78,194.13 361.02,195.80 361.26,197.54 361.50,199.34 361.74,201.22 361.98,203.16 362.22,205.16 362.46,207.23 362.70,209.36 362.94,211.56 363.18,213.82 363.42,216.13 363.66,218.51 363.90,220.94 364.14,223.42 364.38,225.96 364.62,228.55 364.86,231.19 365.10,233.87 365.34,236.60 365.58,239.38 365.82,242.19 366.06,245.05 366.30,247.94 366.54,250.86 366.78,253.81 367.02,256.80 367.26,259.80 367.50,262.83 367.74,265.88 367.98,268.95 368.22,272.03 368.46,275.12 368.70,278.21 368.94,281.31 369.18,284.41 369.42,287.51 369.66,290.60 369.90,293.68 370.14,296.75 370.38,299.80 370.62,302.82 370.86,305.83 371.10,308.80 371.34,311.75 371.58,314.66 371.82,317.52 372.06,320.35 372.30,323.13 372.54,325.86 372.78,328.53 373.02,331.15 373.26,333.71 373.50,336.20 373.74,338.63 373.98,340.98 374.22,343.26 374.46,345.47 374.70,347.59 374.94,349.63 375.18,351.59 375.42,353.45 375.66,355.22 375.90,356.90 376.14,358.49 376.38,359.97 376.62,361.35 376.86,362.63 377.10,363.81 377.34,364.88 377.58,365.84 377.82,366.69 378.06,367.43 378.30,368.05 378.54,368.57 378.78,368.97 379.02,369.26 379.26,369.43 379.50,369.49 379.74,369.43 379.98,369.26 380.22,368.97 380.46,368.57 380.70,368.05 380.94,367.43 381.18,366.69 381.42,365.84 381.66,364.88 381.90,363.81 382.14,362.63 382.38,361.35 382.62,359.97 382.86,358.49 383.10,356.90 383.34,355.22 383.58,353.45 383.82,351.59 384.06,349.63 384.30,347.59 384.54,345.47 384.78,343.26 385.02,340.98 385.26,338.63 385.50,336.20 385.74,333.71 385.98,331.15 386.22,328.53 386.46,325.86 386.70,323.13 386.94,320.35 387.18,317.52 387.42,314.66 387.66,311.75 387.90,308.80 388.14,305.83 388.38,302.82 388.62,299.80 388.86,296.75 389.10,293.68 389.34,290.60 389.58,287.51 389.82,284.41 390.06,281.31 390.30,278.21 390.54,275.12 390.78,272.03 391.02,268.95 391.26,265.88 391.50,262.83 391.74,259.80 391.98,256.80 392.22,253.81 392.46,250.86 392.70,247.94 392.94,245.05 393.18,242.19 393.42,239.38 393.66,236.60 393.90,233.87 394.14,231.19 394.38,228.55 394.62,225.96 394.86,223.42 395.10,220.94 395.34,218.51 395.58,216.13 395.82,213.82 396.06,211.56 396.30,209.36 396.54,207.23 396.78,205.16 397.02,203.16 397.26,201.22 397.50,199.34 397.74,197.54 397.98,195.80 398.22,194.13 398.46,192.54 398.70,191.01 398.94,189.55 399.18,188.17 399.42,186.86 399.66,185.62 399.90,184.45 400.14,183.36 400.38,182.34 400.62,181.40 400.86,180.53 401.10,179.73 401.34,179.01 401.58,178.37 401.82,177.80 402.06,177.31 402.30,176.89 402.54,176.55 402.78,176.28 403.02,176.09 403.26,175.98 403.50,175.94 403.74,175.98 403.98,176.09 404.22,176.28 404.46,176.55 404.70,176.89 404.94,177.31 405.18,177.80 405.42,178.37 405.66,179.01 405.90,179.73 406.14,180.53 406.38,181.40 406.62,182.34 406.86,183.36 407.10,184.45 407.34,185.62 407.58,186.86 407.82,188.17 408.06,189.55 408.30,191.01 408.54,192.54 408.78,194.13 409.02,195.80 409.26,197.54 409.50,199.34 409.74,201.22 409.98,203.16 410.22,205.16 410.46,207.23 410.70,209.36 410.94,211.56 411.18,213.82 411.42,216.13 411.66,218.51 411.90,220.94 412.14,223.42 412.38,225.96 412.62,228.55 412.86,231.19 413.10,233.87 413.34,236.60 413.58,239.38 413.82,242.19 414.06,245.05 414.30,247.94 414.54,250.86 414.78,253.81 415.02,256.80 415.26,259.80 415.50,262.83 415.74,265.88 415.98,268.95 416.22,272.03 416.46,275.12 416.70,278.21 416.94,281.31 417.18,284.41 417.42,287.51 417.66,290.60 417.90,293.68 418.14,296.75 418.38,299.80 418.62,302.82 418.86,305.83 419.10,308.80 419.34,311.75 419.58,314.66 419.82,317.52 420.06,320.35 420.30,323.13 420.54,325.86 420.78,328.53 421.02,331.15 421.26,333.71 421.50,336.20 421.74,338.63 421.98,340.98 422.22,343.26 422.46,345.47 422.70,347.59 422.94,349.63 423.18,351.59 423.42,353.45 423.66,355.22 423.90,356.90 424.14,358.49 424.38,359.97 424.62,361.35 424.86,362.63 425.10,363.81 425.34,364.88 425.58,365.84 425.82,366.69 426.06,367.43 426.30,368.05 426.54,368.57 426.78,368.97 427.02,369.26 427.26,369.43 427.50,369.49 427.74,369.43 427.98,369.26 428.22,368.97 428.46,368.57 428.70,368.05 428.94,367.43 429.18,366.69 429.42,365.84 429.66,364.88 429.90,363.81 430.14,362.63 430.38,361.35 430.62,359.97 430.86,358.49 431.10,356.90 431.34,355.22 431.58,353.45 431.82,351.59 432.06,349.63 432.30,347.59 432.54,345.47 432.78,343.26 433.02,340.98 433.26,338.63 433.50,336.20 433.74,333.71 433.98,331.15 434.22,328.53 434.46,325.86 434.70,323.13 434.94,320.35 435.18,317.52 435.42,314.66 435.66,311.75 435.90,308.80 436.14,305.83 436.38,302.82 436.62,299.80 436.86,296.75 437.10,293.68 437.34,290.60 437.58,287.51 437.82,284.41 438.06,281.31 438.30,278.21 438.54,275.12 438.78,272.03 439.02,268.95 439.26,265.88 439.50,262.83 439.74,259.80 439.98,256.80 440.22,253.81 440.46,250.86 440.70,247.94 440.94,245.05 441.18,242.19 441.42,239.38 441.66,236.60 441.90,233.87 442.14,231.19 442.38,228.55 442.62,225.96 442.86,223.42 443.10,220.94 443.34,218.51 443.58,216.13 443.82,213.82 444.06,211.56 444.30,209.36 444.54,207.23 444.78,205.16 445.02,203.16 445.26,201.22 445.50,199.34 445.74,197.54 445.98,195.80 446.22,194.13 446.46,192.54 446.70,191.01 446.94,189.55 447.18,188.17 447.42,186.86 447.66,185.62 447.90,184.45 448.14,183.36 448.38,182.34 448.62,181.40 448.86,180.53 449.10,179.73 449.34,179.01 449.58,178.37 449.82,177.80 450.06,177.31 450.30,176.89 450.54,176.55 450.78,176.28 451.02,176.09 451.26,175.98 451.50,175.94 451.74,175.98 451.98,176.09 452.22,176.28 452.46,176.55 452.70,176.89 452.94,177.31 453.18,177.80 453.42,178.37 453.66,179.01 453.90,179.73 454.14,180.53 454.38,181.40 454.62,182.34 454.86,183.36 455.10,184.45 455.34,185.62 455.58,186.86 455.82,188.17 456.06,189.55 456.30,191.01 456.54,192.54 456.78,194.13 457.02,195.80 457.26,197.54 457.50,199.34 457.74,201.22 457.98,203.16 458.22,205.16 458.46,207.23 458.70,209.36 458.94,211.56 459.18,213.82 459.42,216.13 459.66,218.51 459.90,220.94 460.14,223.42 460.38,225.96 460.62,228.55 460.86,231.19 461.10,233.87 461.34,236.60 461.58,239.38 461.82,242.19 462.06,245.05 462.30,247.94 462.54,250.86 462.78,253.81 463.02,256.80 463.26,259.80 463.50,262.83 463.74,265.88 463.98,268.95 464.22,272.03 464.46,275.12 464.70,278.21 464.94,281.31 465.18,284.41 465.42,287.51 465.66,290.60 465.90,293.68 466.14,296.75 466.38,299.80 466.62,302.82 466.86,305.83 467.10,308.80 467.34,311.75 467.58,314.66 467.82,317.52 468.06,320.35 468.30,323.13 468.54,325.86 468.78,328.53 469.02,331.15 469.26,333.71 469.50,336.20 469.74,338.63 469.98,340.98 470.22,343.26 470.46,345.47 470.70,347.59 470.94,349.63 471.18,351.59 471.42,353.45 471.66,355.22 471.90,356.90 472.14,358.49 472.38,359.97 472.62,361.35 472.86,362.63 473.10,363.81 473.34,364.88 473.58,365.84 473.82,366.69 474.06,367.43 474.30,368.05 474.54,368.57 474.78,368.97 475.02,369.26 475.26,369.43 475.50,369.49 475.74,369.43 475.98,369.26 476.22,368.97 476.46,368.57 476.70,368.05 476.94,367.43 477.18,366.69 477.42,365.84 477.66,364.88 477.90,363.81 478.14,362.63 478.38,361.35 478.62,359.97 478.86,358.49 479.10,356.90 479.34,355.22 479.58,353.45 479.82,351.59 480.06,349.63 480.30,347.59 480.54,345.47 480.78,343.26 481.02,340.98 481.26,338.63 481.50,336.20 481.74,333.71 481.98,331.15 482.22,328.53 482.46,325.86 482.70,323.13 482.94,320.35 483.18,317.52 483.42,314.66 483.66,311.75 483.90,308.80 484.14,305.83 484.38,302.82 484.62,299.80 484.86,296.75 485.10,293.68 485.34,290.60 485.58,287.51 485.82,284.41 486.06,281.31 486.30,278.21 486.54,275.12 486.78,272.03 487.02,268.95 487.26,265.88 487.50,262.83 487.74,259.80 487.98,256.80 488.22,253.81 488.46,250.86 488.70,247.94 488.94,245.05 489.18,242.19 489.42,239.38 489.66,236.60 489.90,233.87 490.14,231.19 490.38,228.55 490.62,225.96 490.86,223.42 491.10,220.94 491.34,218.51 491.58,216.13 491.82,213.82 492.06,211.56 492.30,209.36 492.54,207.23 492.78,205.16 493.02,203.16 493.26,201.22 493.50,199.34 493.74,197.54 493.98,195.80 494.22,194.13 494.46,192.54 494.70,191.01 494.94,189.55 495.18,188.17 495.42,186.86 495.66,185.62 495.90,184.45 496.14,183.36 496.38,182.34 496.62,181.40 496.86,180.53 497.10,179.73 497.34,179.01 497.58,178.37 497.82,177.80 498.06,177.31 498.30,176.89 498.54,176.55 498.78,176.28 499.02,176.09 499.26,175.98 499.50,175.94 499.74,175.98 499.98,176.09 500.22,176.28 500.46,176.55 500.70,176.89 500.94,177.31 501.18,177.80 501.42,178.37 501.66,179.01 501.90,179.73 502.14,180.53 502.38,181.40 502.62,182.34 502.86,183.36 503.10,184.45 503.34,185.62 503.58,186.86 503.82,188.17 504.06,189.55 504.30,191.01 504.54,192.54 504.78,194.13 505.02,195.80 505.26,197.54 505.50,199.34 505.74,201.22 505.98,203.16 506.22,205.16 506.46,207.23 506.70,209.36 506.94,211.56 507.18,213.82 507.42,216.13 507.66,218.51 507.90,220.94 508.14,223.42 508.38,225.96 508.62,228.55 508.86,231.19 509.10,233.87 509.34,236.60 509.58,239.38 509.82,242.19 510.06,245.05 510.30,247.94 510.54,250.86 510.78,253.81 511.02,256.80 511.26,259.80 511.50,262.83 511.74,265.88 511.98,268.95 512.22,272.03 512.46,275.12 512.70,278.21 512.94,281.31 513.18,284.41 513.42,287.51 513.66,290.60 513.90,293.68 514.14,296.75 514.38,299.80 514.62,302.82 514.86,305.83 515.10,308.80 515.34,311.75 515.58,314.66 515.82,317.52 516.06,320.35 516.30,323.13 516.54,325.86 516.78,328.53 517.02,331.15 517.26,333.71 517.50,336.20 517.74,338.63 517.98,340.98 518.22,343.26 518.46,345.47 518.70,347.59 518.94,349.63 519.18,351.59 519.42,353.45 519.66,355.22 519.90,356.90 520.14,358.49 520.38,359.97 520.62,361.35 520.86,362.63 521.10,363.81 521.34,364.88 521.58,365.84 521.82,366.69 522.06,367.43 522.30,368.05 522.54,368.57 522.78,368.97 523.02,369.26 523.26,369.43 523.50,369.49 523.74,369.43 523.98,369.26 524.22,368.97 524.46,368.57 524.70,368.05 524.94,367.43 525.18,366.69 525.42,365.84 525.66,364.88 525.90,363.81 526.14,362.63 526.38,361.35 526.62,359.97 526.86,358.49 527.10,356.90 527.34,355.22 527.58,353.45 527.82,351.59 528.06,349.63 528.30,347.59 528.54,345.47 528.78,343.26 529.02,340.98 529.26,338.63 529.50,336.20 529.74,333.71 529.98,331.15 530.22,328.53 530.46,325.86 530.70,323.13 530.94,320.35 531.18,317.52 531.42,314.66 531.66,311.75 531.90,308.80 532.14,305.83 532.38,302.82 532.62,299.80 532.86,296.75 533.10,293.68 533.34,290.60 533.58,287.51 533.82,284.41 534.06,281.31 534.30,278.21 534.54,275.12 534.78,272.03 535.02,268.95 535.26,265.88 535.50,262.83"/>
<line x1="57.5" y1="389.5" x2="174.2" y2="389.5" stroke="#ff0000" stroke-width="3.2" stroke-dasharray="12.1 11.49" stroke-dashoffset="21.59"/>
<line x1="175.2" y1="232.8" x2="175.2" y2="389.5" stroke="#ff0000" stroke-width="3.2" stroke-dasharray="18.5 5.2 20 3 11.8 11.6 12.2 11.6 12.2 11.6 12.2 11.6 12.2 20"/>
<polyline fill="none" stroke="#ff0000" stroke-width="3.2" stroke-linejoin="round" stroke-dasharray="12.1 11.49" stroke-dashoffset="4.56" points="175.98,269.26 176.22,272.48 176.46,275.70 176.70,278.92 176.94,282.12 177.18,285.32 177.42,288.50 177.66,291.67 177.90,294.82 178.14,297.94 178.38,301.03 178.62,304.10 178.86,307.13 179.10,310.12 179.34,313.08 179.58,315.98 179.82,318.85 180.06,321.66 180.30,324.42 180.54,327.12 180.78,329.76 181.02,332.34 181.26,334.86 181.50,337.30 181.74,339.68 181.98,341.98 182.22,344.20 182.46,346.35 182.70,348.41 182.94,350.39 183.18,352.28 183.42,354.09 183.66,355.80 183.90,357.42 184.14,358.94 184.38,360.37 184.62,361.70 184.86,362.93 185.10,364.05 185.34,365.08 185.58,366.00 185.82,366.81 186.06,367.52 186.30,368.12 186.54,368.61 186.78,368.99 187.02,369.27 187.26,369.43 187.50,369.49 187.74,369.43 187.98,369.27 188.22,368.99 188.46,368.61 188.70,368.12 188.94,367.52 189.18,366.81 189.42,366.00 189.66,365.08 189.90,364.05 190.14,362.93 190.38,361.70 190.62,360.37 190.86,358.94 191.10,357.42 191.34,355.80 191.58,354.09 191.82,352.28 192.06,350.39 192.30,348.41 192.54,346.35 192.78,344.20 193.02,341.98 193.26,339.68 193.50,337.30 193.74,334.86 193.98,332.34 194.22,329.76 194.46,327.12 194.70,324.42 194.94,321.66 195.18,318.85 195.42,315.98 195.66,313.08 195.90,310.12 196.14,307.13 196.38,304.10 196.62,301.03 196.86,297.94 197.10,294.82 197.34,291.67 197.58,288.50 197.82,285.32 198.06,282.12 198.30,278.92 198.54,275.70 198.78,272.48 199.02,269.26 199.26,266.04 199.50,262.83 199.74,259.63 199.98,256.44 200.22,253.27 200.46,250.11 200.70,246.97 200.94,243.86 201.18,240.78 201.42,237.73 201.66,234.71 201.90,231.72 202.14,228.77 202.38,225.87 202.62,223.01 202.86,220.19 203.10,217.42 203.34,214.71 203.58,212.05 203.82,209.44 204.06,206.89 204.30,204.40 204.54,201.97 204.78,199.61 205.02,197.31 205.26,195.08 205.50,192.92 205.74,190.83 205.98,188.82 206.22,186.88 206.46,185.01 206.70,183.22 206.94,181.51 207.18,179.88 207.42,178.34 207.66,176.87 207.90,175.49 208.14,174.19 208.38,172.98 208.62,171.85 208.86,170.81 209.10,169.86 209.34,169.00 209.58,168.23 209.82,167.54 210.06,166.95 210.30,166.45 210.54,166.03 210.78,165.71 211.02,165.48 211.26,165.35 211.50,165.30 211.74,165.35 211.98,165.48 212.22,165.71 212.46,166.03 212.70,166.45 212.94,166.95 213.18,167.54 213.42,168.23 213.66,169.00 213.90,169.86 214.14,170.81 214.38,171.85 214.62,172.98 214.86,174.19 215.10,175.49 215.34,176.87 215.58,178.34 215.82,179.88 216.06,181.51 216.30,183.22 216.54,185.01 216.78,186.88 217.02,188.82 217.26,190.83 217.50,192.92 217.74,195.08 217.98,197.31 218.22,199.61 218.46,201.97 218.70,204.40 218.94,206.89 219.18,209.44 219.42,212.05 219.66,214.71 219.90,217.42 220.14,220.19 220.38,223.01 220.62,225.87 220.86,228.77 221.10,231.72 221.34,234.71 221.58,237.73 221.82,240.78 222.06,243.86 222.30,246.97 222.54,250.11 222.78,253.27 223.02,256.44 223.26,259.63 223.50,262.83 223.74,266.04 223.98,269.26 224.22,272.48 224.46,275.70 224.70,278.92 224.94,282.12 225.18,285.32 225.42,288.50 225.66,291.67 225.90,294.82 226.14,297.94 226.38,301.03 226.62,304.10 226.86,307.13 227.10,310.12 227.34,313.08 227.58,315.98 227.82,318.85 228.06,321.66 228.30,324.42 228.54,327.12 228.78,329.76 229.02,332.34 229.26,334.86 229.50,337.30 229.74,339.68 229.98,341.98 230.22,344.20 230.46,346.35 230.70,348.41 230.94,350.39 231.18,352.28 231.42,354.09 231.66,355.80 231.90,357.42 232.14,358.94 232.38,360.37 232.62,361.70 232.86,362.93 233.10,364.05 233.34,365.08 233.58,366.00 233.82,366.81 234.06,367.52 234.30,368.12 234.54,368.61 234.78,368.99 235.02,369.27 235.26,369.43 235.50,369.49 235.74,369.43 235.98,369.27 236.22,368.99 236.46,368.61 236.70,368.12 236.94,367.52 237.18,366.81 237.42,366.00 237.66,365.08 237.90,364.05 238.14,362.93 238.38,361.70 238.62,360.37 238.86,358.94 239.10,357.42 239.34,355.80 239.58,354.09 239.82,352.28 240.06,350.39 240.30,348.41 240.54,346.35 240.78,344.20 241.02,341.98 241.26,339.68 241.50,337.30 241.74,334.86 241.98,332.34 242.22,329.76 242.46,327.12 242.70,324.42 242.94,321.66 243.18,318.85 243.42,315.98 243.66,313.08 243.90,310.12 244.14,307.13 244.38,304.10 244.62,301.03 244.86,297.94 245.10,294.82 245.34,291.67 245.58,288.50 245.82,285.32 246.06,282.12 246.30,278.92 246.54,275.70 246.78,272.48 247.02,269.26 247.26,266.04 247.50,262.83 247.74,259.63 247.98,256.44 248.22,253.27 248.46,250.11 248.70,246.97 248.94,243.86 249.18,240.78 249.42,237.73 249.66,234.71 249.90,231.72 250.14,228.77 250.38,225.87 250.62,223.01 250.86,220.19 251.10,217.42 251.34,214.71 251.58,212.05 251.82,209.44 252.06,206.89 252.30,204.40 252.54,201.97 252.78,199.61 253.02,197.31 253.26,195.08 253.50,192.92 253.74,190.83 253.98,188.82 254.22,186.88 254.46,185.01 254.70,183.22 254.94,181.51 255.18,179.88 255.42,178.34 255.66,176.87 255.90,175.49 256.14,174.19 256.38,172.98 256.62,171.85 256.86,170.81 257.10,169.86 257.34,169.00 257.58,168.23 257.82,167.54 258.06,166.95 258.30,166.45 258.54,166.03 258.78,165.71 259.02,165.48 259.26,165.35 259.50,165.30 259.74,165.35 259.98,165.48 260.22,165.71 260.46,166.03 260.70,166.45 260.94,166.95 261.18,167.54 261.42,168.23 261.66,169.00 261.90,169.86 262.14,170.81 262.38,171.85 262.62,172.98 262.86,174.19 263.10,175.49 263.34,176.87 263.58,178.34 263.82,179.88 264.06,181.51 264.30,183.22 264.54,185.01 264.78,186.88 265.02,188.82 265.26,190.83 265.50,192.92 265.74,195.08 265.98,197.31 266.22,199.61 266.46,201.97 266.70,204.40 266.94,206.89 267.18,209.44 267.42,212.05 267.66,214.71 267.90,217.42 268.14,220.19 268.38,223.01 268.62,225.87 268.86,228.77 269.10,231.72 269.34,234.71 269.58,237.73 269.82,240.78 270.06,243.86 270.30,246.97 270.54,250.11 270.78,253.27 271.02,256.44 271.26,259.63 271.50,262.83 271.74,266.04 271.98,269.26 272.22,272.48 272.46,275.70 272.70,278.92 272.94,282.12 273.18,285.32 273.42,288.50 273.66,291.67 273.90,294.82 274.14,297.94 274.38,301.03 274.62,304.10 274.86,307.13 275.10,310.12 275.34,313.08 275.58,315.98 275.82,318.85 276.06,321.66 276.30,324.42 276.54,327.12 276.78,329.76 277.02,332.34 277.26,334.86 277.50,337.30 277.74,339.68 277.98,341.98 278.22,344.20 278.46,346.35 278.70,348.41 278.94,350.39 279.18,352.28 279.42,354.09 279.66,355.80 279.90,357.42 280.14,358.94 280.38,360.37 280.62,361.70 280.86,362.93 281.10,364.05 281.34,365.08 281.58,366.00 281.82,366.81 282.06,367.52 282.30,368.12 282.54,368.61 282.78,368.99 283.02,369.27 283.26,369.43 283.50,369.49 283.74,369.43 283.98,369.27 284.22,368.99 284.46,368.61 284.70,368.12 284.94,367.52 285.18,366.81 285.42,366.00 285.66,365.08 285.90,364.05 286.14,362.93 286.38,361.70 286.62,360.37 286.86,358.94 287.10,357.42 287.34,355.80 287.58,354.09 287.82,352.28 288.06,350.39 288.30,348.41 288.54,346.35 288.78,344.20 289.02,341.98 289.26,339.68 289.50,337.30 289.74,334.86 289.98,332.34 290.22,329.76 290.46,327.12 290.70,324.42 290.94,321.66 291.18,318.85 291.42,315.98 291.66,313.08 291.90,310.12 292.14,307.13 292.38,304.10 292.62,301.03 292.86,297.94 293.10,294.82 293.34,291.67 293.58,288.50 293.82,285.32 294.06,282.12 294.30,278.92 294.54,275.70 294.78,272.48 295.02,269.26 295.26,266.04 295.50,262.83 295.74,259.63 295.98,256.44 296.22,253.27 296.46,250.11 296.70,246.97 296.94,243.86 297.18,240.78 297.42,237.73 297.66,234.71 297.90,231.72 298.14,228.77 298.38,225.87 298.62,223.01 298.86,220.19 299.10,217.42 299.34,214.71 299.58,212.05 299.82,209.44 300.06,206.89 300.30,204.40 300.54,201.97 300.78,199.61 301.02,197.31 301.26,195.08 301.50,192.92 301.74,190.83 301.98,188.82 302.22,186.88 302.46,185.01 302.70,183.22 302.94,181.51 303.18,179.88 303.42,178.34 303.66,176.87 303.90,175.49 304.14,174.19 304.38,172.98 304.62,171.85 304.86,170.81 305.10,169.86 305.34,169.00 305.58,168.23 305.82,167.54 306.06,166.95 306.30,166.45 306.54,166.03 306.78,165.71 307.02,165.48 307.26,165.35 307.50,165.30 307.74,165.35 307.98,165.48 308.22,165.71 308.46,166.03 308.70,166.45 308.94,166.95 309.18,167.54 309.42,168.23 309.66,169.00 309.90,169.86 310.14,170.81 310.38,171.85 310.62,172.98 310.86,174.19 311.10,175.49 311.34,176.87 311.58,178.34 311.82,179.88 312.06,181.51 312.30,183.22 312.54,185.01 312.78,186.88 313.02,188.82 313.26,190.83 313.50,192.92 313.74,195.08 313.98,197.31 314.22,199.61 314.46,201.97 314.70,204.40 314.94,206.89 315.18,209.44 315.42,212.05 315.66,214.71 315.90,217.42 316.14,220.19 316.38,223.01 316.62,225.87 316.86,228.77 317.10,231.72 317.34,234.71 317.58,237.73 317.82,240.78 318.06,243.86 318.30,246.97 318.54,250.11 318.78,253.27 319.02,256.44 319.26,259.63 319.50,262.83 319.74,266.04 319.98,269.26 320.22,272.48 320.46,275.70 320.70,278.92 320.94,282.12 321.18,285.32 321.42,288.50 321.66,291.67 321.90,294.82 322.14,297.94 322.38,301.03 322.62,304.10 322.86,307.13 323.10,310.12 323.34,313.08 323.58,315.98 323.82,318.85 324.06,321.66 324.30,324.42 324.54,327.12 324.78,329.76 325.02,332.34 325.26,334.86 325.50,337.30 325.74,339.68 325.98,341.98 326.22,344.20 326.46,346.35 326.70,348.41 326.94,350.39 327.18,352.28 327.42,354.09 327.66,355.80 327.90,357.42 328.14,358.94 328.38,360.37 328.62,361.70 328.86,362.93 329.10,364.05 329.34,365.08 329.58,366.00 329.82,366.81 330.06,367.52 330.30,368.12 330.54,368.61 330.78,368.99 331.02,369.27 331.26,369.43 331.50,369.49 331.74,369.43 331.98,369.27 332.22,368.99 332.46,368.61 332.70,368.12 332.94,367.52 333.18,366.81 333.42,366.00 333.66,365.08 333.90,364.05 334.14,362.93 334.38,361.70 334.62,360.37 334.86,358.94 335.10,357.42 335.34,355.80 335.58,354.09 335.82,352.28 336.06,350.39 336.30,348.41 336.54,346.35 336.78,344.20 337.02,341.98 337.26,339.68 337.50,337.30 337.74,334.86 337.98,332.34 338.22,329.76 338.46,327.12 338.70,324.42 338.94,321.66 339.18,318.85 339.42,315.98 339.66,313.08 339.90,310.12 340.14,307.13 340.38,304.10 340.62,301.03 340.86,297.94 341.10,294.82 341.34,291.67 341.58,288.50 341.82,285.32 342.06,282.12 342.30,278.92 342.54,275.70 342.78,272.48 343.02,269.26 343.26,266.04 343.50,262.83 343.74,259.63 343.98,256.44 344.22,253.27 344.46,250.11 344.70,246.97 344.94,243.86 345.18,240.78 345.42,237.73 345.66,234.71 345.90,231.72 346.14,228.77 346.38,225.87 346.62,223.01 346.86,220.19 347.10,217.42 347.34,214.71 347.58,212.05 347.82,209.44 348.06,206.89 348.30,204.40 348.54,201.97 348.78,199.61 349.02,197.31 349.26,195.08 349.50,192.92 349.74,190.83 349.98,188.82 350.22,186.88 350.46,185.01 350.70,183.22 350.94,181.51 351.18,179.88 351.42,178.34 351.66,176.87 351.90,175.49 352.14,174.19 352.38,172.98 352.62,171.85 352.86,170.81 353.10,169.86 353.34,169.00 353.58,168.23 353.82,167.54 354.06,166.95 354.30,166.45 354.54,166.03 354.78,165.71 355.02,165.48 355.26,165.35 355.50,165.30 355.74,165.35 355.98,165.48 356.22,165.71 356.46,166.03 356.70,166.45 356.94,166.95 357.18,167.54 357.42,168.23 357.66,169.00 357.90,169.86 358.14,170.81 358.38,171.85 358.62,172.98 358.86,174.19 359.10,175.49 359.34,176.87 359.58,178.34 359.82,179.88 360.06,181.51 360.30,183.22 360.54,185.01 360.78,186.88 361.02,188.82 361.26,190.83 361.50,192.92 361.74,195.08 361.98,197.31 362.22,199.61 362.46,201.97 362.70,204.40 362.94,206.89 363.18,209.44 363.42,212.05 363.66,214.71 363.90,217.42 364.14,220.19 364.38,223.01 364.62,225.87 364.86,228.77 365.10,231.72 365.34,234.71 365.58,237.73 365.82,240.78 366.06,243.86 366.30,246.97 366.54,250.11 366.78,253.27 367.02,256.44 367.26,259.63 367.50,262.83 367.74,266.04 367.98,269.26 368.22,272.48 368.46,275.70 368.70,278.92 368.94,282.12 369.18,285.32 369.42,288.50 369.66,291.67 369.90,294.82 370.14,297.94 370.38,301.03 370.62,304.10 370.86,307.13 371.10,310.12 371.34,313.08 371.58,315.98 371.82,318.85 372.06,321.66 372.30,324.42 372.54,327.12 372.78,329.76 373.02,332.34 373.26,334.86 373.50,337.30 373.74,339.68 373.98,341.98 374.22,344.20 374.46,346.35 374.70,348.41 374.94,350.39 375.18,352.28 375.42,354.09 375.66,355.80 375.90,357.42 376.14,358.94 376.38,360.37 376.62,361.70 376.86,362.93 377.10,364.05 377.34,365.08 377.58,366.00 377.82,366.81 378.06,367.52 378.30,368.12 378.54,368.61 378.78,368.99 379.02,369.27 379.26,369.43 379.50,369.49 379.74,369.43 379.98,369.27 380.22,368.99 380.46,368.61 380.70,368.12 380.94,367.52 381.18,366.81 381.42,366.00 381.66,365.08 381.90,364.05 382.14,362.93 382.38,361.70 382.62,360.37 382.86,358.94 383.10,357.42 383.34,355.80 383.58,354.09 383.82,352.28 384.06,350.39 384.30,348.41 384.54,346.35 384.78,344.20 385.02,341.98 385.26,339.68 385.50,337.30 385.74,334.86 385.98,332.34 386.22,329.76 386.46,327.12 386.70,324.42 386.94,321.66 387.18,318.85 387.42,315.98 387.66,313.08 387.90,310.12 388.14,307.13 388.38,304.10 388.62,301.03 388.86,297.94 389.10,294.82 389.34,291.67 389.58,288.50 389.82,285.32 390.06,282.12 390.30,278.92 390.54,275.70 390.78,272.48 391.02,269.26 391.26,266.04 391.50,262.83 391.74,259.63 391.98,256.44 392.22,253.27 392.46,250.11 392.70,246.97 392.94,243.86 393.18,240.78 393.42,237.73 393.66,234.71 393.90,231.72 394.14,228.77 394.38,225.87 394.62,223.01 394.86,220.19 395.10,217.42 395.34,214.71 395.58,212.05 395.82,209.44 396.06,206.89 396.30,204.40 396.54,201.97 396.78,199.61 397.02,197.31 397.26,195.08 397.50,192.92 397.74,190.83 397.98,188.82 398.22,186.88 398.46,185.01 398.70,183.22 398.94,181.51 399.18,179.88 399.42,178.34 399.66,176.87 399.90,175.49 400.14,174.19 400.38,172.98 400.62,171.85 400.86,170.81 401.10,169.86 401.34,169.00 401.58,168.23 401.82,167.54 402.06,166.95 402.30,166.45 402.54,166.03 402.78,165.71 403.02,165.48 403.26,165.35 403.50,165.30 403.74,165.35 403.98,165.48 404.22,165.71 404.46,166.03 404.70,166.45 404.94,166.95 405.18,167.54 405.42,168.23 405.66,169.00 405.90,169.86 406.14,170.81 406.38,171.85 406.62,172.98 406.86,174.19 407.10,175.49 407.34,176.87 407.58,178.34 407.82,179.88 408.06,181.51 408.30,183.22 408.54,185.01 408.78,186.88 409.02,188.82 409.26,190.83 409.50,192.92 409.74,195.08 409.98,197.31 410.22,199.61 410.46,201.97 410.70,204.40 410.94,206.89 411.18,209.44 411.42,212.05 411.66,214.71 411.90,217.42 412.14,220.19 412.38,223.01 412.62,225.87 412.86,228.77 413.10,231.72 413.34,234.71 413.58,237.73 413.82,240.78 414.06,243.86 414.30,246.97 414.54,250.11 414.78,253.27 415.02,256.44 415.26,259.63 415.50,262.83 415.74,266.04 415.98,269.26 416.22,272.48 416.46,275.70 416.70,278.92 416.94,282.12 417.18,285.32 417.42,288.50 417.66,291.67 417.90,294.82 418.14,297.94 418.38,301.03 418.62,304.10 418.86,307.13 419.10,310.12 419.34,313.08 419.58,315.98 419.82,318.85 420.06,321.66 420.30,324.42 420.54,327.12 420.78,329.76 421.02,332.34 421.26,334.86 421.50,337.30 421.74,339.68 421.98,341.98 422.22,344.20 422.46,346.35 422.70,348.41 422.94,350.39 423.18,352.28 423.42,354.09 423.66,355.80 423.90,357.42 424.14,358.94 424.38,360.37 424.62,361.70 424.86,362.93 425.10,364.05 425.34,365.08 425.58,366.00 425.82,366.81 426.06,367.52 426.30,368.12 426.54,368.61 426.78,368.99 427.02,369.27 427.26,369.43 427.50,369.49 427.74,369.43 427.98,369.27 428.22,368.99 428.46,368.61 428.70,368.12 428.94,367.52 429.18,366.81 429.42,366.00 429.66,365.08 429.90,364.05 430.14,362.93 430.38,361.70 430.62,360.37 430.86,358.94 431.10,357.42 431.34,355.80 431.58,354.09 431.82,352.28 432.06,350.39 432.30,348.41 432.54,346.35 432.78,344.20 433.02,341.98 433.26,339.68 433.50,337.30 433.74,334.86 433.98,332.34 434.22,329.76 434.46,327.12 434.70,324.42 434.94,321.66 435.18,318.85 435.42,315.98 435.66,313.08 435.90,310.12 436.14,307.13 436.38,304.10 436.62,301.03 436.86,297.94 437.10,294.82 437.34,291.67 437.58,288.50 437.82,285.32 438.06,282.12 438.30,278.92 438.54,275.70 438.78,272.48 439.02,269.26 439.26,266.04 439.50,262.83 439.74,259.63 439.98,256.44 440.22,253.27 440.46,250.11 440.70,246.97 440.94,243.86 441.18,240.78 441.42,237.73 441.66,234.71 441.90,231.72 442.14,228.77 442.38,225.87 442.62,223.01 442.86,220.19 443.10,217.42 443.34,214.71 443.58,212.05 443.82,209.44 444.06,206.89 444.30,204.40 444.54,201.97 444.78,199.61 445.02,197.31 445.26,195.08 445.50,192.92 445.74,190.83 445.98,188.82 446.22,186.88 446.46,185.01 446.70,183.22 446.94,181.51 447.18,179.88 447.42,178.34 447.66,176.87 447.90,175.49 448.14,174.19 448.38,172.98 448.62,171.85 448.86,170.81 449.10,169.86 449.34,169.00 449.58,168.23 449.82,167.54 450.06,166.95 450.30,166.45 450.54,166.03 450.78,165.71 451.02,165.48 451.26,165.35 451.50,165.30 451.74,165.35 451.98,165.48 452.22,165.71 452.46,166.03 452.70,166.45 452.94,166.95 453.18,167.54 453.42,168.23 453.66,169.00 453.90,169.86 454.14,170.81 454.38,171.85 454.62,172.98 454.86,174.19 455.10,175.49 455.34,176.87 455.58,178.34 455.82,179.88 456.06,181.51 456.30,183.22 456.54,185.01 456.78,186.88 457.02,188.82 457.26,190.83 457.50,192.92 457.74,195.08 457.98,197.31 458.22,199.61 458.46,201.97 458.70,204.40 458.94,206.89 459.18,209.44 459.42,212.05 459.66,214.71 459.90,217.42 460.14,220.19 460.38,223.01 460.62,225.87 460.86,228.77 461.10,231.72 461.34,234.71 461.58,237.73 461.82,240.78 462.06,243.86 462.30,246.97 462.54,250.11 462.78,253.27 463.02,256.44 463.26,259.63 463.50,262.83 463.74,266.04 463.98,269.26 464.22,272.48 464.46,275.70 464.70,278.92 464.94,282.12 465.18,285.32 465.42,288.50 465.66,291.67 465.90,294.82 466.14,297.94 466.38,301.03 466.62,304.10 466.86,307.13 467.10,310.12 467.34,313.08 467.58,315.98 467.82,318.85 468.06,321.66 468.30,324.42 468.54,327.12 468.78,329.76 469.02,332.34 469.26,334.86 469.50,337.30 469.74,339.68 469.98,341.98 470.22,344.20 470.46,346.35 470.70,348.41 470.94,350.39 471.18,352.28 471.42,354.09 471.66,355.80 471.90,357.42 472.14,358.94 472.38,360.37 472.62,361.70 472.86,362.93 473.10,364.05 473.34,365.08 473.58,366.00 473.82,366.81 474.06,367.52 474.30,368.12 474.54,368.61 474.78,368.99 475.02,369.27 475.26,369.43 475.50,369.49 475.74,369.43 475.98,369.27 476.22,368.99 476.46,368.61 476.70,368.12 476.94,367.52 477.18,366.81 477.42,366.00 477.66,365.08 477.90,364.05 478.14,362.93 478.38,361.70 478.62,360.37 478.86,358.94 479.10,357.42 479.34,355.80 479.58,354.09 479.82,352.28 480.06,350.39 480.30,348.41 480.54,346.35 480.78,344.20 481.02,341.98 481.26,339.68 481.50,337.30 481.74,334.86 481.98,332.34 482.22,329.76 482.46,327.12 482.70,324.42 482.94,321.66 483.18,318.85 483.42,315.98 483.66,313.08 483.90,310.12 484.14,307.13 484.38,304.10 484.62,301.03 484.86,297.94 485.10,294.82 485.34,291.67 485.58,288.50 485.82,285.32 486.06,282.12 486.30,278.92 486.54,275.70 486.78,272.48 487.02,269.26 487.26,266.04 487.50,262.83 487.74,259.63 487.98,256.44 488.22,253.27 488.46,250.11 488.70,246.97 488.94,243.86 489.18,240.78 489.42,237.73 489.66,234.71 489.90,231.72 490.14,228.77 490.38,225.87 490.62,223.01 490.86,220.19 491.10,217.42 491.34,214.71 491.58,212.05 491.82,209.44 492.06,206.89 492.30,204.40 492.54,201.97 492.78,199.61 493.02,197.31 493.26,195.08 493.50,192.92 493.74,190.83 493.98,188.82 494.22,186.88 494.46,185.01 494.70,183.22 494.94,181.51 495.18,179.88 495.42,178.34 495.66,176.87 495.90,175.49 496.14,174.19 496.38,172.98 496.62,171.85 496.86,170.81 497.10,169.86 497.34,169.00 497.58,168.23 497.82,167.54 498.06,166.95 498.30,166.45 498.54,166.03 498.78,165.71 499.02,165.48 499.26,165.35 499.50,165.30 499.74,165.35 499.98,165.48 500.22,165.71 500.46,166.03 500.70,166.45 500.94,166.95 501.18,167.54 501.42,168.23 501.66,169.00 501.90,169.86 502.14,170.81 502.38,171.85 502.62,172.98 502.86,174.19 503.10,175.49 503.34,176.87 503.58,178.34 503.82,179.88 504.06,181.51 504.30,183.22 504.54,185.01 504.78,186.88 505.02,188.82 505.26,190.83 505.50,192.92 505.74,195.08 505.98,197.31 506.22,199.61 506.46,201.97 506.70,204.40 506.94,206.89 507.18,209.44 507.42,212.05 507.66,214.71 507.90,217.42 508.14,220.19 508.38,223.01 508.62,225.87 508.86,228.77 509.10,231.72 509.34,234.71 509.58,237.73 509.82,240.78 510.06,243.86 510.30,246.97 510.54,250.11 510.78,253.27 511.02,256.44 511.26,259.63 511.50,262.83 511.74,266.04 511.98,269.26 512.22,272.48 512.46,275.70 512.70,278.92 512.94,282.12 513.18,285.32 513.42,288.50 513.66,291.67 513.90,294.82 514.14,297.94 514.38,301.03 514.62,304.10 514.86,307.13 515.10,310.12 515.34,313.08 515.58,315.98 515.82,318.85 516.06,321.66 516.30,324.42 516.54,327.12 516.78,329.76 517.02,332.34 517.26,334.86 517.50,337.30 517.74,339.68 517.98,341.98 518.22,344.20 518.46,346.35 518.70,348.41 518.94,350.39 519.18,352.28 519.42,354.09 519.66,355.80 519.90,357.42 520.14,358.94 520.38,360.37 520.62,361.70 520.86,362.93 521.10,364.05 521.34,365.08 521.58,366.00 521.82,366.81 522.06,367.52 522.30,368.12 522.54,368.61 522.78,368.99 523.02,369.27 523.26,369.43 523.50,369.49 523.74,369.43 523.98,369.27 524.22,368.99 524.46,368.61 524.70,368.12 524.94,367.52 525.18,366.81 525.42,366.00 525.66,365.08 525.90,364.05 526.14,362.93 526.38,361.70 526.62,360.37 526.86,358.94 527.10,357.42 527.34,355.80 527.58,354.09 527.82,352.28 528.06,350.39 528.30,348.41 528.54,346.35 528.78,344.20 529.02,341.98 529.26,339.68 529.50,337.30 529.74,334.86 529.98,332.34 530.22,329.76 530.46,327.12 530.70,324.42 530.94,321.66 531.18,318.85 531.42,315.98 531.66,313.08 531.90,310.12 532.14,307.13 532.38,304.10 532.62,301.03 532.86,297.94 533.10,294.82 533.34,291.67 533.58,288.50 533.82,285.32 534.06,282.12 534.30,278.92 534.54,275.70 534.78,272.48 535.02,269.26 535.26,266.04 535.50,262.83"/>
<rect x="53.5" y="250" width="0.9" height="139.5" fill="#5a4cff"/>
<rect x="53.8" y="9.5" width="5.2" height="380.2" fill="#ff0000"/>
<rect x="53.8" y="20.9" width="4.6" height="1" fill="#fff" opacity="0.75"/>
<rect x="53.4" y="22.4" width="1.1" height="8" fill="#5a4cff"/>
<rect x="58.6" y="22.4" width="0.5" height="8" fill="#5a4cff" opacity="0.7"/>
<rect x="53.8" y="44.6" width="4.6" height="1" fill="#fff" opacity="0.75"/>
<rect x="53.4" y="46.1" width="1.1" height="8" fill="#5a4cff"/>
<rect x="58.6" y="46.1" width="0.5" height="8" fill="#5a4cff" opacity="0.7"/>
<rect x="53.8" y="68.3" width="4.6" height="1" fill="#fff" opacity="0.75"/>
<rect x="53.4" y="69.8" width="1.1" height="8" fill="#5a4cff"/>
<rect x="58.6" y="69.8" width="0.5" height="8" fill="#5a4cff" opacity="0.7"/>
<rect x="53.8" y="92.0" width="4.6" height="1" fill="#fff" opacity="0.75"/>
<rect x="53.4" y="93.5" width="1.1" height="8" fill="#5a4cff"/>
<rect x="58.6" y="93.5" width="0.5" height="8" fill="#5a4cff" opacity="0.7"/>
<rect x="53.8" y="115.7" width="4.6" height="1" fill="#fff" opacity="0.75"/>
<rect x="53.4" y="117.2" width="1.1" height="8" fill="#5a4cff"/>
<rect x="58.6" y="117.2" width="0.5" height="8" fill="#5a4cff" opacity="0.7"/>
<rect x="53.8" y="139.4" width="4.6" height="1" fill="#fff" opacity="0.75"/>
<rect x="53.4" y="140.9" width="1.1" height="8" fill="#5a4cff"/>
<rect x="58.6" y="140.9" width="0.5" height="8" fill="#5a4cff" opacity="0.7"/>
<rect x="53.8" y="163.1" width="4.6" height="1" fill="#fff" opacity="0.75"/>
<rect x="53.4" y="164.6" width="1.1" height="8" fill="#5a4cff"/>
<rect x="58.6" y="164.6" width="0.5" height="8" fill="#5a4cff" opacity="0.7"/>
<rect x="53.8" y="186.8" width="4.6" height="1" fill="#fff" opacity="0.75"/>
<rect x="53.4" y="188.3" width="1.1" height="8" fill="#5a4cff"/>
<rect x="58.6" y="188.3" width="0.5" height="8" fill="#5a4cff" opacity="0.7"/>
<rect x="53.8" y="210.5" width="4.6" height="1" fill="#fff" opacity="0.75"/>
<rect x="53.4" y="212.0" width="1.1" height="8" fill="#5a4cff"/>
<rect x="58.6" y="212.0" width="0.5" height="8" fill="#5a4cff" opacity="0.7"/>
<rect x="53.8" y="234.2" width="4.6" height="1" fill="#fff" opacity="0.75"/>
<rect x="53.4" y="235.7" width="1.1" height="8" fill="#5a4cff"/>
<rect x="58.6" y="235.7" width="0.5" height="8" fill="#5a4cff" opacity="0.7"/>
<rect x="53.8" y="257.9" width="4.6" height="1" fill="#fff" opacity="0.75"/>
<rect x="53.4" y="259.4" width="1.1" height="8" fill="#5a4cff"/>
<rect x="58.6" y="259.4" width="0.5" height="8" fill="#5a4cff" opacity="0.7"/>
<rect x="53.8" y="281.6" width="4.6" height="1" fill="#fff" opacity="0.75"/>
<rect x="53.4" y="283.1" width="1.1" height="8" fill="#5a4cff"/>
<rect x="58.6" y="283.1" width="0.5" height="8" fill="#5a4cff" opacity="0.7"/>
<rect x="54.9" y="305.3" width="1.6" height="1" fill="#fff" opacity="0.7"/>
<rect x="53.4" y="306.8" width="1.1" height="8" fill="#5a4cff"/>
<rect x="58.6" y="306.8" width="0.5" height="8" fill="#5a4cff" opacity="0.7"/>
<rect x="54.9" y="329.0" width="1.6" height="1" fill="#fff" opacity="0.7"/>
<rect x="53.4" y="330.5" width="1.1" height="8" fill="#5a4cff"/>
<rect x="58.6" y="330.5" width="0.5" height="8" fill="#5a4cff" opacity="0.7"/>
<rect x="54.9" y="352.7" width="1.6" height="1" fill="#fff" opacity="0.7"/>
<rect x="53.4" y="354.2" width="1.1" height="8" fill="#5a4cff"/>
<rect x="58.6" y="354.2" width="0.5" height="8" fill="#5a4cff" opacity="0.7"/>
<rect x="54.9" y="376.4" width="1.6" height="1" fill="#fff" opacity="0.7"/>
<rect x="53.4" y="377.9" width="1.1" height="8" fill="#5a4cff"/>
<rect x="58.6" y="377.9" width="0.5" height="8" fill="#5a4cff" opacity="0.7"/>
<rect x="404.5" y="21.5" width="119.5" height="69" fill="#fff" stroke="#262626" stroke-width="1" shape-rendering="crispEdges"/>
<line x1="408.4" y1="36.3" x2="452.7" y2="36.3" stroke="#000" stroke-width="3.2"/>
<line x1="408.4" y1="59.4" x2="452.7" y2="59.4" stroke="#0000ff" stroke-width="3.2" stroke-dasharray="12 3 6 3"/>
<line x1="408.4" y1="79.1" x2="452.7" y2="79.1" stroke="#ff0000" stroke-width="3.2" stroke-dasharray="12 12"/>
<text x="455.6" y="38.9" font-size="15" fill="#000" stroke="#000">Actual u<tspan font-size="11" dy="7.7" dx="1">fx</tspan></text>
<text x="455.9" y="64.7" font-size="14.75" fill="#000" stroke="#000">ILSMO</text>
<text x="455.9" y="84.5" font-size="15" fill="#000" stroke="#000">MLO</text>
<text x="54.3" y="411.3" font-size="14.67" text-anchor="middle">0</text>
<text x="150.5" y="411.3" font-size="14.67" text-anchor="middle">40</text>
<text x="247.1" y="411.3" font-size="14.67" text-anchor="middle">80</text>
<text x="343.1" y="411.3" font-size="14.67" text-anchor="middle">120</text>
<text x="439.1" y="411.3" font-size="14.67" text-anchor="middle">160</text>
<text x="535.1" y="411.3" font-size="14.67" text-anchor="middle">200</text>
<text x="48.3" y="395.2" font-size="14.67" text-anchor="end">0</text>
<text x="48.3" y="268.5" font-size="14.67" text-anchor="end">0.1</text>
<text x="48.3" y="141.9" font-size="14.67" text-anchor="end">0.2</text>
<text x="48.3" y="15.2" font-size="14.67" text-anchor="end">0.3</text>
<text x="295.1" y="433.8" font-size="16.2" text-anchor="middle">t(seconds)</text>
<text transform="translate(19.4,199.6) rotate(-90)" font-size="17" letter-spacing="0.3" text-anchor="middle">Actuator fault reconstruction results (Nm)</text>
</svg></body></html>
